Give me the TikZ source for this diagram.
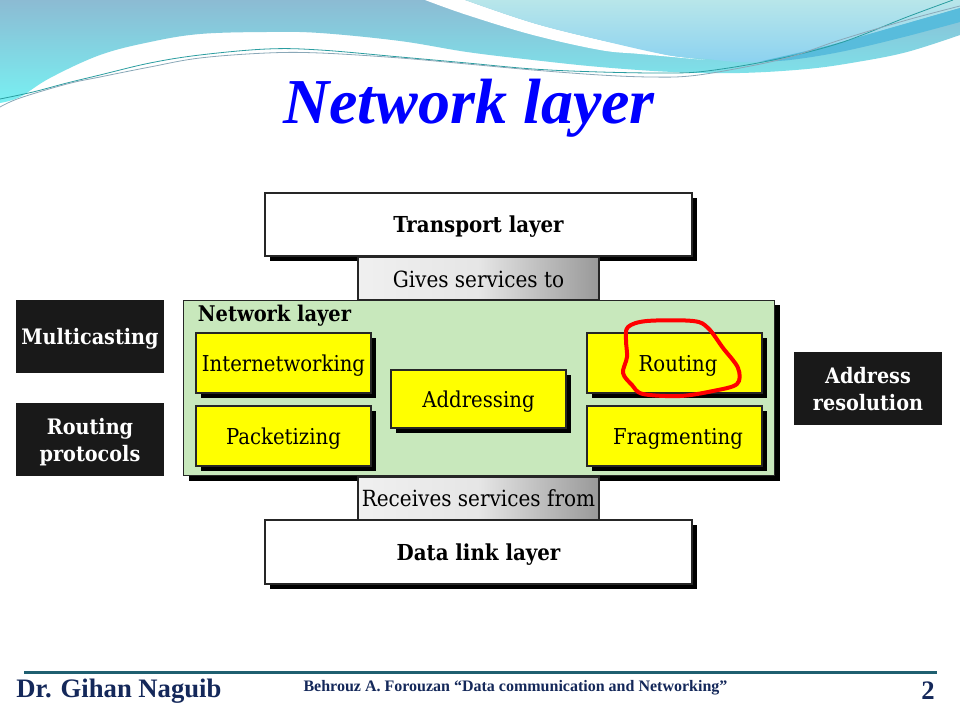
\documentclass[tikz,border=0pt]{standalone}
\usepackage{fontspec}
\usetikzlibrary{shadows}
\newfontfamily\timesf{Liberation Serif}
\newfontfamily\dgf{DejaVu Serif Condensed}
\newcommand\lowtxt[2][1.9pt]{\raisebox{-#1}[\height][\depth]{#2}}
\definecolor{maintop}{HTML}{8CBBD3}
\definecolor{mainbot}{HTML}{78F0F2}
\definecolor{lighttop}{HTML}{B8E6EA}
\definecolor{lightbot}{HTML}{8CD2F0}
\definecolor{bandc}{HTML}{58BCDC}
\definecolor{tealc}{HTML}{2A9DA0}
\definecolor{greyc}{HTML}{8AA8B8}
\definecolor{greenc}{HTML}{C8E8BC}
\definecolor{yellowc}{HTML}{FFFF00}
\definecolor{inkc}{HTML}{14285A}
\definecolor{rulec}{HTML}{1F5F70}
\def\px{0.75pt}
\tikzset{
  x=0.75pt,y=-0.75pt,
  shadowbox/.style={draw=black!85,line width=1pt,inner sep=0pt,outer sep=0pt,
    general shadow={fill=black,shadow xshift=3.75pt,shadow yshift=-3.75pt}},
  layerbox/.style={shadowbox,fill=white,minimum width=427*\px,minimum height=63*\px,font=\dgf\fontsize{16.5}{20}\selectfont\bfseries},
  funcbox/.style={shadowbox,fill=yellowc,minimum width=175*\px,minimum height=60*\px,font=\dgf\fontsize{16.4}{20}\selectfont},
  netbox/.style={shadowbox,fill=greenc,minimum width=591*\px,minimum height=175*\px},
  servbox/.style={draw=black!85,line width=1pt,inner sep=0pt,outer sep=0pt,left color=black!6,right color=black!40,middle color=black!10,
    minimum width=241*\px,minimum height=43*\px,font=\dgf\fontsize{16.7}{20}\selectfont},
  darkbox/.style={fill=black!90,text=white,inner sep=0pt,outer sep=0pt,minimum width=148*\px,minimum height=73*\px,
    align=center,font=\dgf\fontsize{16}{20}\selectfont\bfseries},
  foot/.style={text=inkc,inner sep=0pt,font=\timesf\bfseries},
}
\begin{document}
\begin{tikzpicture}
\useasboundingbox (0,0) rectangle (960,720);
\fill[white] (0,0) rectangle (960,720);
% header swooshes
\path[top color=maintop,bottom color=mainbot] (0,0) -- (960,0) -- (960,35) -- plot[smooth,tension=.6] coordinates {(960,35)(907,52)(857,62)(807,69)(740,73)(673,72)(600,67)(533,60)(467,52)(400,41)(320,33)(267,32)(200,34)(150,42)(100,55)(50,78)(20,97)(0,103)} -- cycle;
\fill[white] (425,0) -- plot[smooth,tension=.6] coordinates {(425,0)(467,15)(533,35)(600,50)(640,54)(705,60)} -- plot[smooth,tension=.6] coordinates {(705,60)(667,55)(640,48)(600,40)(533,23)(465,0)} -- cycle;
\path[top color=lighttop,bottom color=lightbot] (465,0) -- plot[smooth,tension=.6] coordinates {(465,0)(533,23)(600,40)(667,55)(707,59)(740,62)(773,60)(823,47)(873,33)(960,8)} -- (960,0) -- cycle;
\fill[bandc] plot[smooth,tension=.6] coordinates {(760,61.5)(823,47)(873,33)(960,8)} -- plot[smooth,tension=.6] coordinates {(960,22)(900,38)(840,52)(790,60)(760,61.5)} -- cycle;
\draw[tealc,line width=.6pt] plot[smooth,tension=.6] coordinates {(0,99)(33,92)(67,83)(100,75)(150,63)(200,55)(267,49)(320,50)(400,57)(467,63)(533,69)(600,72)(667,73)(707,71)(773,60)(840,43)(907,17)(953,0)};
\draw[greyc,line width=.6pt] plot[smooth,tension=.6] coordinates {(0,107)(20,98)(67,84)(100,77)(150,67)(200,58)(267,53)(320,53)(400,58)(467,64)(533,70)(600,75)(650,77)(690,76)(740,68)(790,57)(840,40)(907,20)(960,6)};
% title
\node[inner sep=0pt,text=blue,font=\timesf\bfseries\itshape\fontsize{48}{52}\selectfont] (title) at (469,108) {Network layer};
% diagram
\node[layerbox] (transport) at (478.5,224.5) {\lowtxt{Transport layer}};
\node[layerbox,minimum height=64*\px] (datalink) at (478.5,552) {\lowtxt{Data link layer}};
\node[netbox] (network) at (479,388) {};
\node[servbox] (gives) at (478.5,278.5) {\lowtxt[0.6pt]{Gives services to}};
\node[servbox] (receives) at (478.5,498.5) {Receives services from};
\node[inner sep=0pt,font=\dgf\fontsize{16.2}{20}\selectfont\bfseries] (netlabel) at (274.5,316) {Network layer};
\node[funcbox] (inet) at (283.5,363) {\lowtxt{Internetworking}};
\node[funcbox] (packet) at (283.5,436) {\lowtxt{Packetizing}};
\node[funcbox,minimum height=58*\px] (addr) at (478.5,399) {\lowtxt{Addressing}};
\node[funcbox] (routing) at (674.5,363) {\lowtxt{\hspace*{5.25pt}Routing}};
\node[funcbox] (frag) at (674.5,436) {\lowtxt{\hspace*{5.25pt}Fragmenting}};
\node[darkbox] (multi) at (90,336.5) {\lowtxt{Multicasting}};
\node[darkbox] (rprot) at (90,439.5) {\lowtxt{Routing}\\\lowtxt{protocols}};
\node[darkbox] (ares) at (868,388) {\lowtxt[0.8pt]{Address}\\\lowtxt[0.8pt]{resolution}};
% hand-drawn loop
\draw[red,line width=3pt,line cap=round,line join=round] plot[smooth cycle,tension=.55] coordinates {(628,327)(647,321)(693,321)(708,328)(723,348)(738,368)(737,384)(713,391)(680,396)(643,394)(632,385)(623,373)(627,357)(626,340)};
% footer
\draw[rulec,line width=2.2pt] (24,672.5) -- (937,672.5);
\node[foot,font=\timesf\bfseries\fontsize{20}{24}\selectfont] (author) at (119,691) {Dr. Gihan Naguib};
\node[foot,font=\timesf\bfseries\fontsize{12}{14}\selectfont] (book) at (515.5,688) {Behrouz A. Forouzan “Data communication and Networking”};
\node[foot,font=\timesf\bfseries\fontsize{20}{24}\selectfont] (page) at (928,691) {2};
\end{tikzpicture}
\end{document}
